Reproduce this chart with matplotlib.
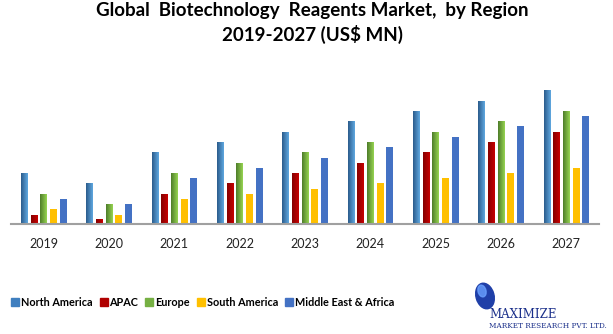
import matplotlib
matplotlib.use('Agg')
import matplotlib.pyplot as plt
from matplotlib.colors import LinearSegmentedColormap
from matplotlib.lines import Line2D
from matplotlib.patches import Ellipse
import numpy as np

years = ['2019', '2020', '2021', '2022', '2023', '2024', '2025', '2026', '2027']
regions = ['North America', 'APAC', 'Europe', 'South America', 'Middle East & Africa']
north_america = [51, 41, 72, 82, 92, 103, 113, 123, 134]
apac = [9, 5, 30, 41, 51, 61, 72, 82, 92]
europe = [30, 20, 51, 61, 72, 82, 92, 103, 113]
south_america = [15, 9, 25, 30, 35, 41, 46, 51, 56]
mea = [25, 20, 46, 56, 66, 77, 87, 98, 108]
series = [north_america, apac, europe, south_america, mea]

# left/right colours of each bar (gradient), legend colour
grads = [('#2b5b8c', '#5fa8e0'), ('#840000', '#c80000'), ('#4e7d2a', '#96d452'),
         ('#ffc000', '#ffc000'), ('#4472c4', '#4472c4')]
legend_cols = ['#3f7fbf', '#b00000', '#76b043', '#ffc000', '#4472c4']

W, H = 613, 334
fig = plt.figure(figsize=(W / 100, H / 100), dpi=100)
ax = fig.add_axes([11 / W, (H - 224) / H, 588 / W, 154 / H])

x = np.arange(len(years))
step = 0.148
width = 0.1
grad = np.linspace(0, 1, 64).reshape(1, -1)
for i, vals in enumerate(series):
    cmap = LinearSegmentedColormap.from_list('g%d' % i, list(grads[i]))
    pos = x + (i - 2) * step
    bars = ax.bar(pos, vals, width=width, color=grads[i][1], zorder=2)
    for b in bars:
        ax.imshow(grad, extent=[b.get_x(), b.get_x() + b.get_width(), 0, b.get_height()],
                  cmap=cmap, aspect='auto', zorder=3)

ax.set_xlim(-0.5, len(years) - 0.5)
ax.set_ylim(0, 154)
ax.set_xticks(x)
ax.set_xticklabels(years, fontsize=9, family='Lato', color='#222222')
ax.tick_params(axis='x', length=0, pad=10)
ax.set_yticks([])
for s in ['top', 'right', 'left']:
    ax.spines[s].set_visible(False)
ax.spines['bottom'].set_color('#a0a0a0')
ax.spines['bottom'].set_linewidth(1.5)
ax.spines['bottom'].set_zorder(5)

fig.text(0.509, 1 - 2 / H, 'Global  Biotechnology  Reagents Market,  by Region\n2019-2027 (US$ MN)',
         ha='center', va='top', fontsize=13.5, fontweight='bold', family='Lato',
         linespacing=1.4, color='black')

handles = [Line2D([], [], marker='s', linestyle='', color=c, markersize=5.5) for c in legend_cols]
fig.legend(handles, regions, loc='center left', bbox_to_anchor=(7 / W, 1 - 302 / H), ncol=5,
           frameon=False, handlelength=0.5, handletextpad=0.3, columnspacing=0.75,
           borderpad=0, prop={'family': 'Lato', 'size': 7.8, 'weight': 'bold'})

# logo
la = fig.add_axes([0, 0, 1, 1], zorder=-1)
la.set_xlim(0, W)
la.set_ylim(H, 0)
la.axis('off')
la.add_patch(Ellipse((485, 296), 18, 26, angle=-15, color='#1f3fa8'))
la.add_patch(Ellipse((482, 291), 8, 12, angle=-15, color='#6aa0ff', alpha=0.8))
fig.text(489 / W, 1 - 314 / H, 'MAXIMIZE', fontsize=8.5, family='DejaVu Serif',
         color='#1a2f8a', va='center', ha='left')
fig.text(489 / W, 1 - 326 / H, 'MARKET RESEARCH PVT. LTD.', fontsize=5.2, family='DejaVu Serif',
         color='#1a2f8a', va='center', ha='left')

fig.savefig('out.png', dpi=100)
